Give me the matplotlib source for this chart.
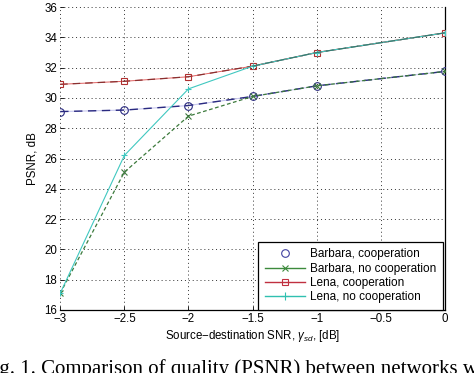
import numpy as np
import matplotlib.pyplot as plt

snr = [-3, -2.5, -2, -1.5, -1, 0]
barbara_coop = [29.1, 29.2, 29.5, 30.1, 30.8, 31.75]
barbara_nocoop = [17.1, 25.1, 28.8, 30.1, 30.8, 31.75]
lena_coop = [30.9, 31.1, 31.4, 32.1, 33.0, 34.3]
lena_nocoop = [17.1, 26.2, 30.6, 32.1, 33.0, 34.3]

xticks = [-3, -2.5, -2, -1.5, -1, -0.5, 0]
xticklabels = ["\u22123", "\u22122.5", "\u22122", "\u22121.5", "\u22121", "\u22120.5", "0"]
yticks = [16, 18, 20, 22, 24, 26, 28, 30, 32, 34, 36]

plt.rcParams["font.family"] = ["Liberation Sans", "DejaVu Sans"]
plt.rcParams["mathtext.fontset"] = "custom"
plt.rcParams["mathtext.rm"] = "Liberation Sans"
plt.rcParams["mathtext.it"] = "Liberation Sans:italic"

fig = plt.figure(figsize=(4.74, 3.73), dpi=100)
ax = fig.add_axes([0.127, 0.169, 0.812, 0.812])

# Barbara, cooperation: light line with dark dashes
ax.plot(snr, barbara_coop, color="#c8c8f0", lw=0.8, zorder=2)
ax.plot(snr, barbara_coop, color="#2a2a80", lw=1.0, ls=(0, (6, 4)),
        marker="o", ms=5.5, mfc="none", mec="#2a2a80", mew=0.8, zorder=3)
# Barbara, no cooperation
ax.plot(snr, barbara_nocoop, color="#3c7a3c", lw=0.9, ls=(0, (3, 2)),
        marker="x", ms=4.5, mew=0.8, zorder=3)
# Lena, cooperation
ax.plot(snr, lena_coop, color="#e06060", lw=0.7, zorder=2)
ax.plot(snr, lena_coop, color="#8a3030", lw=0.9, ls=(0, (6, 4)),
        marker="s", ms=5, mfc="none", mec="#b03030", mew=0.8, zorder=3)
# Lena, no cooperation
ax.plot(snr, lena_nocoop, color="#40c8c0", lw=0.8,
        marker="+", ms=5, mew=0.8, zorder=4)
ax.plot(snr[3:], lena_nocoop[3:], color="#3a7a70", lw=0.9, ls=(0, (6, 4)), zorder=4)

ax.set_xlim(-3, 0)
ax.set_ylim(16, 36)
ax.set_xticks(xticks)
ax.set_xticklabels(xticklabels)
ax.set_yticks(yticks)
ax.tick_params(labelsize=8.3, direction="in", length=3, width=0.6, pad=2)
ax.grid(True, ls=(0, (1, 3)), color="#333333", lw=0.7)

for side in ["left", "top"]:
    ax.spines[side].set_visible(False)
for side in ["bottom", "right"]:
    ax.spines[side].set_linewidth(0.9)

ax.set_ylabel("PSNR, dB", fontsize=8.3, labelpad=4)
ax.set_xlabel(r"Source$-$destination SNR, $\gamma_{sd}$, [dB]", fontsize=8.3, labelpad=2)

h1, = ax.plot([], [], ls="none", marker="o", ms=5.5, mfc="none", mec="#4040a0", mew=0.8)
h2, = ax.plot([], [], color="#3c8a3c", lw=1, marker="x", ms=4.5, mew=0.8)
h3, = ax.plot([], [], color="#c03040", lw=1, marker="s", ms=5, mfc="none", mew=0.8)
h4, = ax.plot([], [], color="#30c0b0", lw=1, marker="+", ms=6, mew=0.8)
leg = ax.legend([h1, h2, h3, h4],
                ["Barbara, cooperation", "Barbara, no cooperation",
                 "Lena, cooperation", "Lena, no cooperation"],
                loc="lower right", bbox_to_anchor=(0.995, 0.0),
                fontsize=8.5, frameon=True, fancybox=False,
                borderaxespad=0.0, handlelength=3.4, labelspacing=0.2,
                borderpad=0.55, handletextpad=0.45)
leg.get_frame().set_edgecolor("black")
leg.get_frame().set_linewidth(0.9)
leg.get_frame().set_alpha(1)

fig.text(-0.038, -0.002, "Fig. 1. Comparison of quality (PSNR) between networks with",
         fontsize=15, family=["Liberation Serif", "DejaVu Serif"], ha="left", va="baseline")

fig.savefig("out.png", dpi=100)
